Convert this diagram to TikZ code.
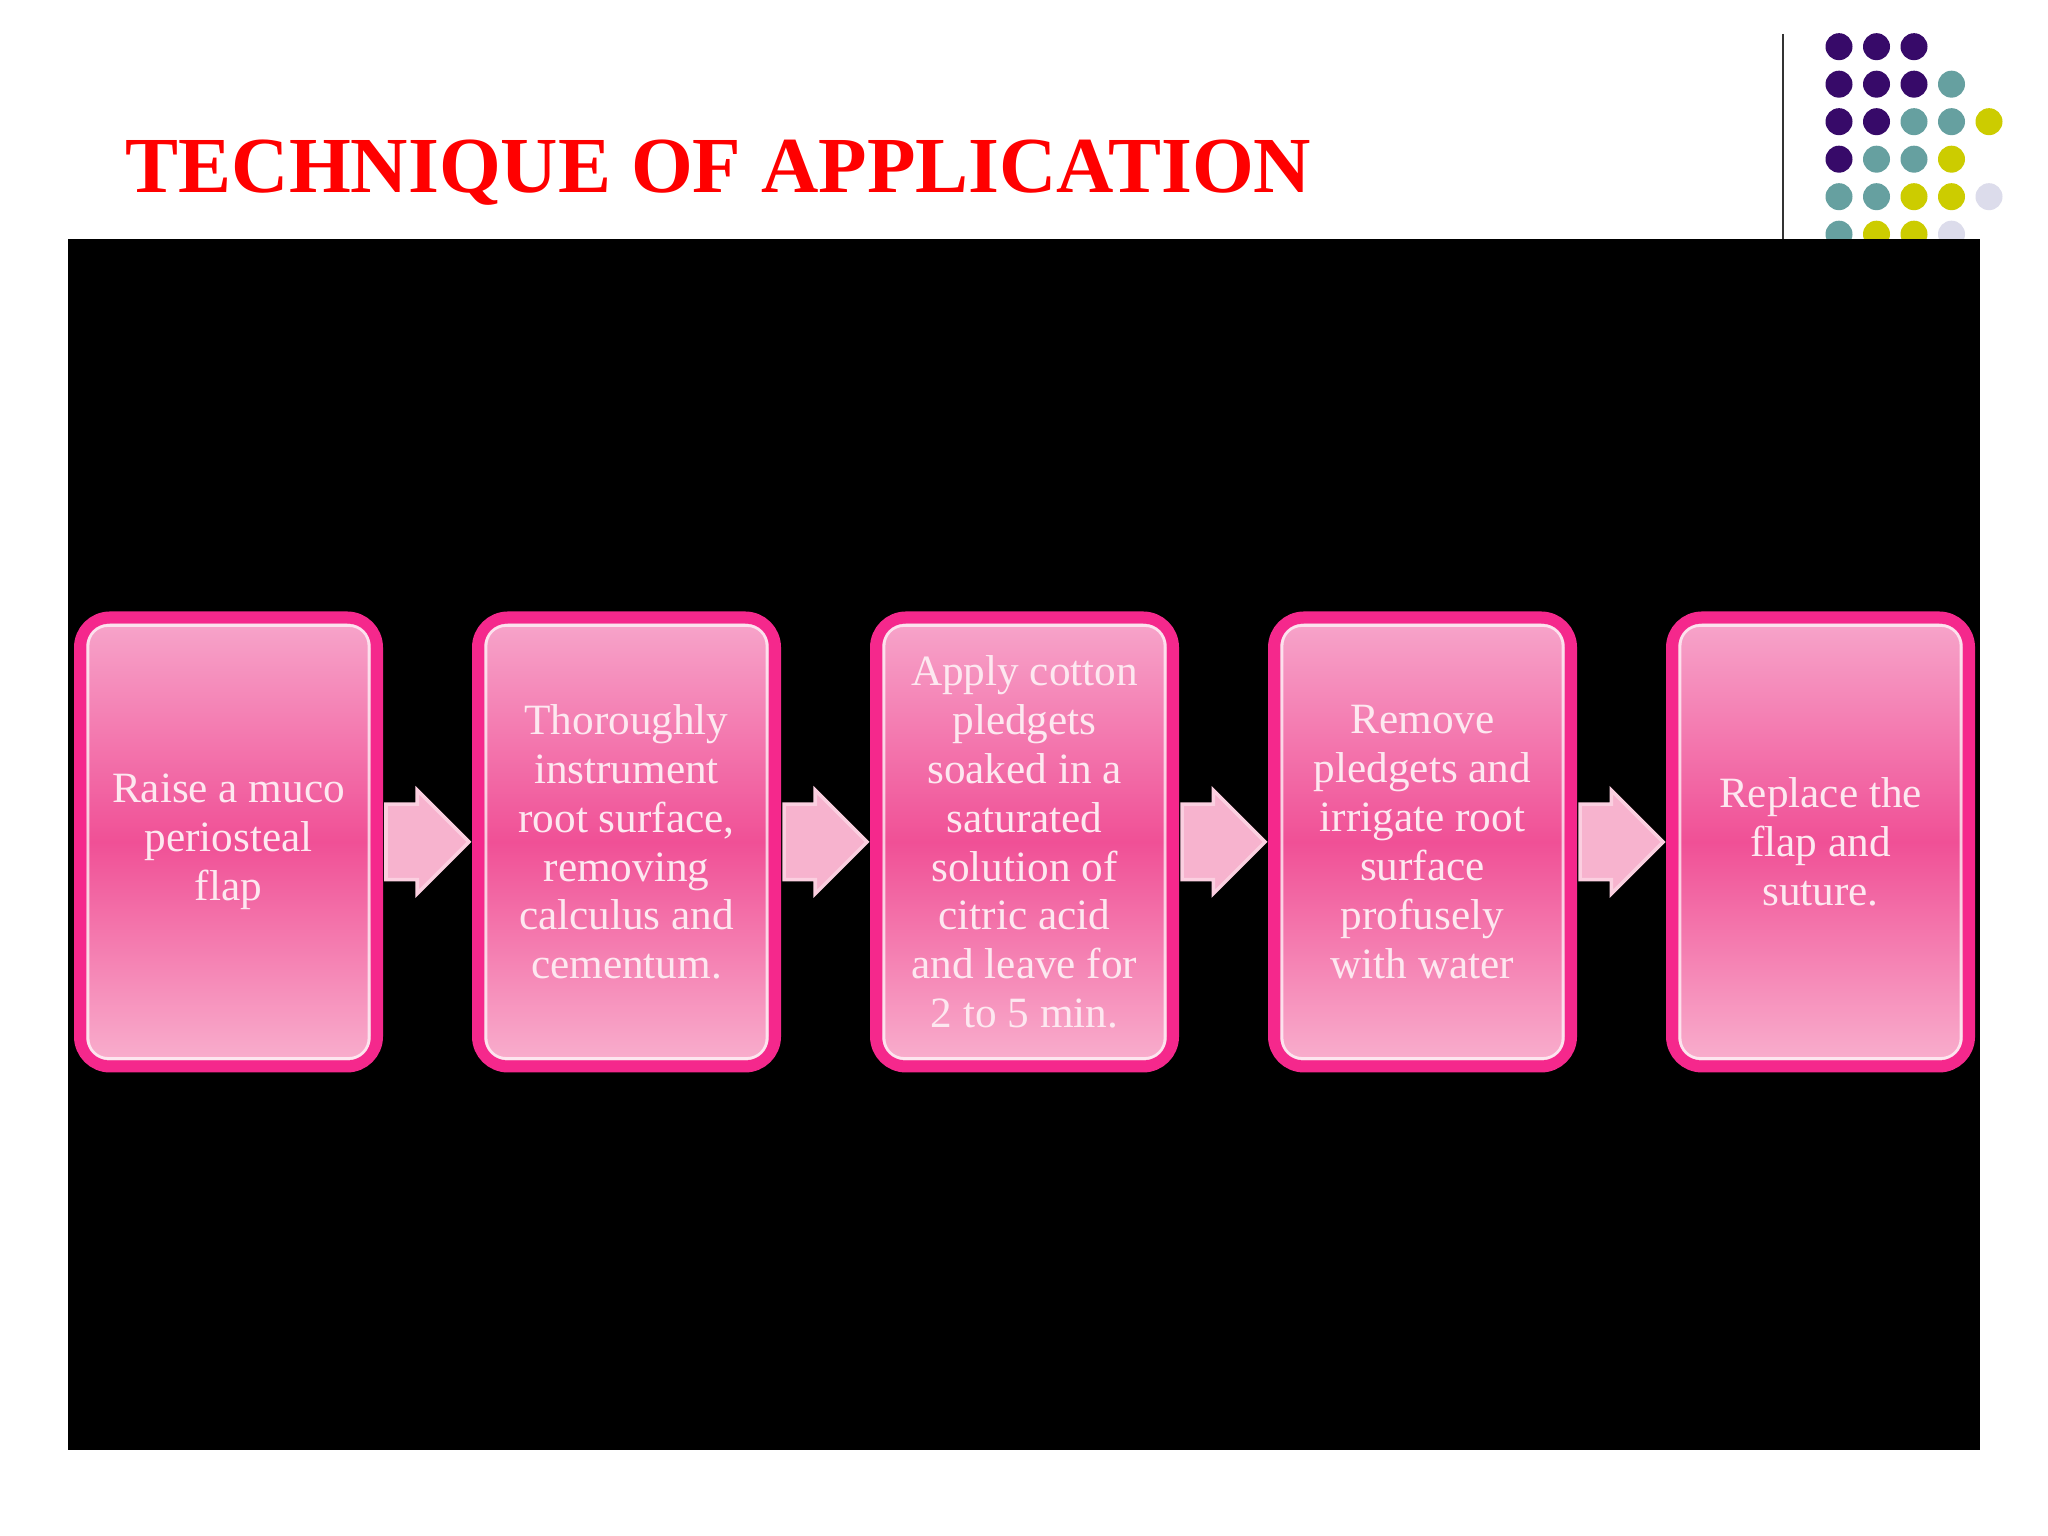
\documentclass[tikz,border=0pt]{standalone}
\usepackage{xcolor}
\usepackage{fontspec}
\setmainfont{Liberation Serif}
\usepackage{tikz}
\usetikzlibrary{positioning, shapes, shapes.arrows, arrows.meta}

\definecolor{titlered}{HTML}{FF0000}
\definecolor{boxborder}{HTML}{F5288C}
\definecolor{pinktop}{HTML}{F7A6CB}
\definecolor{pinkmid}{HTML}{F05096}
\definecolor{pinkbot}{HTML}{F9B0CE}
\definecolor{boxtext}{HTML}{FDE8F0}
\definecolor{arrowfill}{HTML}{F7B3CE}
\definecolor{arrowedge}{HTML}{FBCFE0}
\definecolor{dotpurple}{HTML}{370A69}
\definecolor{dotteal}{HTML}{66A0A0}
\definecolor{dotyellow}{HTML}{CCCC00}
\definecolor{dotlilac}{HTML}{DCDCEB}

\begin{document}
\begin{tikzpicture}[
    stepbox/.style={rectangle, rounded corners=0.3cm, draw=boxborder, line width=0.12cm,
        minimum width=2.97cm, minimum height=4.49cm, inner sep=0pt,
        top color=pinktop, bottom color=pinkbot, middle color=pinkmid,
        align=center, text=boxtext, font=\fontsize{12.3}{13.9}\selectfont},
    gloss/.style={draw=white, draw opacity=0.7, line width=0.8pt, rounded corners=0.2cm},
    steparrow/.style={single arrow, single arrow tip angle=90, single arrow head extend=0.14cm,
        minimum height=0.83cm, inner xsep=0pt, inner ysep=0.36cm, outer sep=0pt,
        fill=arrowfill, draw=arrowedge, line width=1pt},
    % corner dot styles
    dot/.style={circle, minimum size=0.27cm, inner sep=0pt},
    purpledot/.style={dot, fill=dotpurple},
    tealdot/.style={dot, fill=dotteal},
    yellowdot/.style={dot, fill=dotyellow},
    lilacdot/.style={dot, fill=dotlilac}
]
\useasboundingbox[fill=white] (0,0) rectangle (20.48,15.36);

% Title
\node[anchor=base west, inner sep=0pt, text=titlered, font=\fontsize{22.6}{26}\selectfont\bfseries]
    (title) at (1.25,13.43) {TECHNIQUE OF APPLICATION};

% Corner dots
\def\dotx{18.39}
\def\doty{14.893}
\def\dotstep{0.375}
% Row 1
\node at (\dotx+0*\dotstep, \doty-0*\dotstep) [purpledot] (d11) {};
\node at (\dotx+1*\dotstep, \doty-0*\dotstep) [purpledot] (d12) {};
\node at (\dotx+2*\dotstep, \doty-0*\dotstep) [purpledot] (d13) {};
% Row 2
\node at (\dotx+0*\dotstep, \doty-1*\dotstep) [purpledot] (d21) {};
\node at (\dotx+1*\dotstep, \doty-1*\dotstep) [purpledot] (d22) {};
\node at (\dotx+2*\dotstep, \doty-1*\dotstep) [purpledot] (d23) {};
\node at (\dotx+3*\dotstep, \doty-1*\dotstep) [tealdot] (d24) {};
% Row 3
\node at (\dotx+0*\dotstep, \doty-2*\dotstep) [purpledot] (d31) {};
\node at (\dotx+1*\dotstep, \doty-2*\dotstep) [purpledot] (d32) {};
\node at (\dotx+2*\dotstep, \doty-2*\dotstep) [tealdot] (d33) {};
\node at (\dotx+3*\dotstep, \doty-2*\dotstep) [tealdot] (d34) {};
\node at (\dotx+4*\dotstep, \doty-2*\dotstep) [yellowdot] (d35) {};
% Row 4
\node at (\dotx+0*\dotstep, \doty-3*\dotstep) [purpledot] (d41) {};
\node at (\dotx+1*\dotstep, \doty-3*\dotstep) [tealdot] (d42) {};
\node at (\dotx+2*\dotstep, \doty-3*\dotstep) [tealdot] (d43) {};
\node at (\dotx+3*\dotstep, \doty-3*\dotstep) [yellowdot] (d44) {};
% Row 5
\node at (\dotx+0*\dotstep, \doty-4*\dotstep) [tealdot] (d51) {};
\node at (\dotx+1*\dotstep, \doty-4*\dotstep) [tealdot] (d52) {};
\node at (\dotx+2*\dotstep, \doty-4*\dotstep) [yellowdot] (d53) {};
\node at (\dotx+3*\dotstep, \doty-4*\dotstep) [yellowdot] (d54) {};
\node at (\dotx+4*\dotstep, \doty-4*\dotstep) [lilacdot] (d55) {};
% Row 6 (mostly behind the panel)
\node at (\dotx+0*\dotstep, \doty-5*\dotstep) [tealdot] (d61) {};
\node at (\dotx+1*\dotstep, \doty-5*\dotstep) [yellowdot] (d62) {};
\node at (\dotx+2*\dotstep, \doty-5*\dotstep) [yellowdot] (d63) {};
\node at (\dotx+3*\dotstep, \doty-5*\dotstep) [lilacdot] (d64) {};

% Divider line
\draw[black!80, line width=0.6pt] (17.83,15.02) -- (17.83,12.97);

% Black panel
\fill[black] (0.68,0.86) rectangle (19.80,12.97);

% Steps
\node[stepbox] (b1) at (2.285,6.94) {Raise a muco\\periosteal\\flap};
\node[steparrow, right=0.03cm of b1] (a1) {};
\node[stepbox, right=0.03cm of a1] (b2) {Thoroughly\\instrument\\root surface,\\removing\\calculus and\\cementum.};
\node[steparrow, right=0.03cm of b2] (a2) {};
\node[stepbox, right=0.03cm of a2] (b3) {Apply cotton\\pledgets\\soaked in a\\saturated\\solution of\\citric acid\\and leave for\\2 to 5 min.};
\node[steparrow, right=0.03cm of b3] (a3) {};
\node[stepbox, right=0.03cm of a3] (b4) {Remove\\pledgets and\\irrigate root\\surface\\profusely\\with water};
\node[steparrow, right=0.03cm of b4] (a4) {};
\node[stepbox, right=0.03cm of a4] (b5) {Replace the\\flap and\\suture.};

% Gloss lines
\draw[gloss] ([shift={(0.14,0.14)}]b1.south west) rectangle ([shift={(-0.14,-0.14)}]b1.north east);
\draw[gloss] ([shift={(0.14,0.14)}]b2.south west) rectangle ([shift={(-0.14,-0.14)}]b2.north east);
\draw[gloss] ([shift={(0.14,0.14)}]b3.south west) rectangle ([shift={(-0.14,-0.14)}]b3.north east);
\draw[gloss] ([shift={(0.14,0.14)}]b4.south west) rectangle ([shift={(-0.14,-0.14)}]b4.north east);
\draw[gloss] ([shift={(0.14,0.14)}]b5.south west) rectangle ([shift={(-0.14,-0.14)}]b5.north east);

\end{tikzpicture}
\end{document}
